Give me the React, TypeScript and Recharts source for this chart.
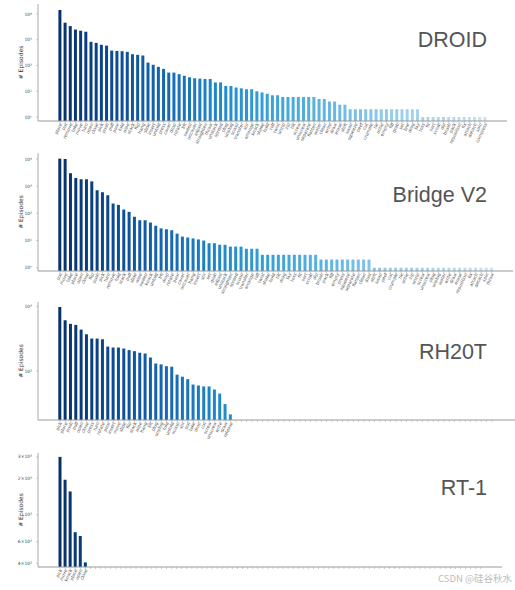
import React from 'react';
import { BarChart, Bar, XAxis, YAxis, Cell } from 'recharts';

// ---------------- DATA ----------------
const droidLabels = [
  'place', 'put', 'remove', 'take', 'move', 'turn', 'open', 'close', 'pick', 'push',
  'pull', 'pour', 'fold', 'wipe', 'stack', 'flip', 'hang', 'slide', 'insert', 'unfold',
  'press', 'cover', 'drop', 'rotate', 'lift', 'sweep', 'uncover', 'adjust', 'straighten', 'throw',
  'unstack', 'spread', 'plug', 'unplug', 'scoop', 'transfer', 'stir', 'arrange', 'knock', 'shake',
  'hold', 'roll', 'twist', 'unzip', 'zip', 'tilt', 'screw', 'unscrew', 'separate', 'flatten',
  'water', 'clean', 'write', 'draw', 'erase', 'shift', 'swap', 'squeeze', 'peel', 'cut',
  'crumple', 'tie', 'untie', 'empty', 'fill', 'grab', 'set', 'line', 'drag', 'lay',
  'toss', 'fit', 'sort', 'scrub', 'dip', 'brush', 'pack', 'reposition', 'fix', 'attach',
  'detach', 'spin', 'compress',
];
const droidValues = [
  14400, 4600, 3400, 2500, 2240, 2050, 830, 760, 640, 590,
  380, 370, 360, 340, 275, 260, 245, 130, 107, 89,
  74, 53, 53, 46, 40, 35, 32, 31, 30, 30,
  22, 22, 16, 16, 14, 13, 12, 12, 10, 9,
  8, 7, 7, 6, 6, 6, 6, 6, 6, 6,
  5, 5, 4, 4, 3, 3, 2, 2, 2, 2,
  2, 2, 2, 2, 2, 2, 2, 2, 2, 2,
  1, 1, 1, 1, 1, 1, 1, 1, 1, 1,
  1, 1, 1,
];
const droidCount = 83;
const droidTicks = [1, 10, 100, 1000, 10000];
const droidTickLabels = ['10⁰', '10¹', '10²', '10³', '10⁴'];

const bridgeLabels = [
  'put', 'move', 'take', 'place', 'open', 'close', 'flip', 'push', 'pick', 'turn',
  'remove', 'fold', 'stack', 'pull', 'slide', 'wipe', 'sweep', 'knock', 'unfold', 'lift',
  'drop', 'rotate', 'pour', 'cover', 'uncover', 'hang', 'insert', 'stir', 'set', 'grab',
  'adjust', 'unstack', 'straighten', 'spread', 'scoop', 'transfer', 'arrange', 'roll', 'twist', 'shake',
  'hold', 'tilt', 'drag', 'lay', 'toss', 'fit', 'sort', 'scrub', 'dip', 'brush',
  'pack', 'fill', 'empty', 'press', 'squeeze', 'separate', 'flatten', 'clean', 'dust', 'shift',
  'swap', 'peel', 'cut', 'crumple', 'tie', 'untie', 'zip', 'unzip', 'screw', 'unscrew',
  'plug', 'unplug', 'water', 'write', 'draw', 'erase', 'reposition', 'fix', 'attach', 'detach',
  'spin', 'throw',
];
const bridgeValues = [
  10300, 10000, 3000, 2000, 1800, 1800, 1500, 710, 600, 465,
  230, 205, 138, 114, 75, 56, 56, 46, 35, 28,
  26, 24, 18, 14, 13, 12, 11, 10, 8, 8,
  7, 7, 6, 6, 6, 5, 5, 5, 3, 3,
  3, 3, 3, 3, 3, 3, 3, 3, 3, 2,
  2, 2, 2, 2, 2, 2, 2, 2, 2, 1,
  1, 1, 1, 1, 1, 1, 1, 1, 1, 1,
  1, 1, 1, 1, 1, 1, 1, 1, 1, 1,
  1, 1,
];
const bridgeCount = 82;
const bridgeTicks = [1, 10, 100, 1000, 10000];
const bridgeTickLabels = ['10⁰', '10¹', '10²', '10³', '10⁴'];

const rh20tLabels = [
  'pick', 'place', 'push', 'pull', 'open', 'close', 'press', 'turn', 'rotate', 'pour',
  'insert', 'move', 'slide', 'flip', 'stack', 'wipe', 'hang', 'lift', 'plug', 'unplug',
  'fold', 'unfold', 'scoop', 'stir', 'put', 'take', 'drop', 'cut', 'screw', 'unscrew',
  'write', 'draw', 'release',
];
const rh20tValues = [
  975, 609, 535, 516, 437, 370, 318, 318, 310, 239,
  231, 231, 223, 211, 203, 192, 187, 162, 131, 127,
  119, 117, 88, 82, 75, 62, 60, 58, 58, 52,
  45, 31, 21.5,
];
const rh20tCount = 82;
const rh20tTicks = [100, 1000];
const rh20tTickLabels = ['10²', '10³'];

const rt1Labels = ['pick', 'move', 'knock', 'place', 'open', 'close'];
const rt1Values = [3000, 1945, 1558, 720, 670, 406];
const rt1Count = 84;
const rt1Ticks = [400, 600, 1000, 2000, 3000];
const rt1TickLabels = ['4×10²', '6×10²', '10³', '2×10³', '3×10³'];

// ---------------- STYLE / LAYOUT ----------------
const stops: [number, string][] = [
  [0, '#08306b'],
  [0.12, '#0c4a92'],
  [0.24, '#1466b0'],
  [0.36, '#1d86c8'],
  [0.48, '#32a0d9'],
  [0.63, '#62b6e2'],
  [0.78, '#94cdec'],
  [1, '#c8e3f4'],
];

function hexToRgb(h: string) {
  return [parseInt(h.slice(1, 3), 16), parseInt(h.slice(3, 5), 16), parseInt(h.slice(5, 7), 16)];
}
function colorAt(t: number) {
  for (let k = 0; k < stops.length - 1; k++) {
    const [t0, c0] = stops[k];
    const [t1, c1] = stops[k + 1];
    if (t <= t1) {
      const f = (t - t0) / (t1 - t0);
      const a = hexToRgb(c0);
      const b = hexToRgb(c1);
      const c = a.map((v, j) => Math.round(v + (b[j] - v) * f));
      return `rgb(${c[0]},${c[1]},${c[2]})`;
    }
  }
  return stops[stops.length - 1][1];
}

type Panel = {
  title: string;
  labels: string[];
  values: number[];
  count: number;
  ticks: number[];
  tickLabels: string[];
  domain: [number, number];
  top: number;
  height: number;
  xAxisHeight: number;
  right: number;
  padL: number;
  padR: number;
  titleY: number;
};

const panels: Panel[] = [
  {
    title: 'DROID', labels: droidLabels, values: droidValues, count: droidCount,
    ticks: droidTicks, tickLabels: droidTickLabels, domain: [0.7, 24500],
    top: 0, height: 147, xAxisHeight: 26, right: 8, padL: 19.4, padR: 19.4, titleY: 47,
  },
  {
    title: 'Bridge V2', labels: bridgeLabels, values: bridgeValues, count: bridgeCount,
    ticks: bridgeTicks, tickLabels: bridgeTickLabels, domain: [0.76, 16600],
    top: 149, height: 148, xAxisHeight: 26, right: 2, padL: 19.3, padR: 18.6, titleY: 202,
  },
  {
    title: 'RH20T', labels: rh20tLabels, values: rh20tValues, count: rh20tCount,
    ticks: rh20tTicks, tickLabels: rh20tTickLabels, domain: [17.6, 1165],
    top: 298, height: 148, xAxisHeight: 26, right: 0, padL: 19.3, padR: 20.6, titleY: 359,
  },
  {
    title: 'RT-1', labels: rt1Labels, values: rt1Values, count: rt1Count,
    ticks: rt1Ticks, tickLabels: rt1TickLabels, domain: [372, 3230],
    top: 449, height: 141, xAxisHeight: 23, right: 13, padL: 19.5, padR: 18.7, titleY: 495,
  },
];

const TICK_FONT = "'DejaVu Sans', sans-serif";

function PanelChart({ p }: { p: Panel }) {
  const data = Array.from({ length: p.count }, (_, i) => ({
    i,
    v: i < p.values.length ? p.values[i] : null,
  }));
  const tickMap: Record<number, string> = {};
  p.ticks.forEach((t, k) => (tickMap[t] = p.tickLabels[k]));

  const XTick = (props: any) => {
    const { x, y, payload } = props;
    const label = p.labels[payload.value] ?? '';
    return (
      <g transform={`translate(${x},${y})`}>
        <text
          x={1}
          y={0}
          dy={2}
          textAnchor="end"
          transform="rotate(-65)"
          fontSize={4.4}
          fill="#555"
          fontFamily={TICK_FONT}
        >
          {label}
        </text>
      </g>
    );
  };

  const YTick = (props: any) => {
    const { x, y, payload } = props;
    return (
      <text x={x} y={y} dy={1.6} textAnchor="end" fontSize={4.5} fill="#444" fontFamily={TICK_FONT}>
        {tickMap[payload.value] ?? ''}
      </text>
    );
  };

  return (
    <div style={{ position: 'absolute', left: 0, top: p.top, width: 515, height: p.height }}>
      <BarChart
        width={515}
        height={p.height}
        data={data}
        margin={{ top: 4, right: p.right, bottom: 0, left: 0 }}
      >
        <XAxis
          dataKey="i"
          type="category"
          interval={0}
          height={p.xAxisHeight}
          padding={{ left: p.padL, right: p.padR }}
          axisLine={{ stroke: '#999', strokeWidth: 1 }}
          tickLine={{ stroke: '#aaa', strokeWidth: 0.6 }}
          tickSize={2}
          tickMargin={1}
          tick={XTick}
        />
        <YAxis
          type="number"
          scale="log"
          domain={p.domain}
          allowDataOverflow
          ticks={p.ticks}
          interval={0}
          width={38}
          axisLine={{ stroke: '#aaa', strokeWidth: 1 }}
          tickLine={{ stroke: '#aaa', strokeWidth: 0.6 }}
          tickSize={2}
          tickMargin={4}
          tick={YTick}
          label={{
            content: (lp: any) => {
              const vb = lp.viewBox || { y: 0, height: 0 };
              const cy = vb.y + vb.height / 2;
              return (
                <text
                  x={20}
                  y={cy}
                  transform={`rotate(-90 20 ${cy})`}
                  textAnchor="middle"
                  dominantBaseline="central"
                  fontSize={6}
                  fill="#333"
                  fontFamily={TICK_FONT}
                >
                  # Episodes
                </text>
              );
            },
          }}
        />
        <Bar dataKey="v" barSize={3} isAnimationActive={false}>
          {data.map((d, i) => (
            <Cell key={i} fill={d.v == null ? 'transparent' : colorAt(i / (p.count - 1))} />
          ))}
        </Bar>
      </BarChart>
    </div>
  );
}

export default function App() {
  return (
    <div
      style={{
        position: 'absolute',
        left: 0,
        top: 0,
        width: 515,
        height: 590,
        background: '#fff',
        overflow: 'hidden',
      }}
    >
      {panels.map((p) => (
        <PanelChart key={p.title} p={p} />
      ))}
      <svg
        width={515}
        height={590}
        style={{ position: 'absolute', left: 0, top: 0, pointerEvents: 'none' }}
      >
        {panels.map((p) => (
          <text
            key={p.title}
            x={487}
            y={p.titleY}
            textAnchor="end"
            fontSize={21.5}
            fill="#555"
            fontFamily="'Liberation Sans', Arial, sans-serif"
          >
            {p.title}
          </text>
        ))}
        <text
          x={512}
          y={582}
          textAnchor="end"
          fontSize={9.5}
          fill="#bdbdbd"
          fontFamily="'Noto Sans CJK SC', 'Liberation Sans', sans-serif"
        >
          CSDN @硅谷秋水
        </text>
      </svg>
    </div>
  );
}
